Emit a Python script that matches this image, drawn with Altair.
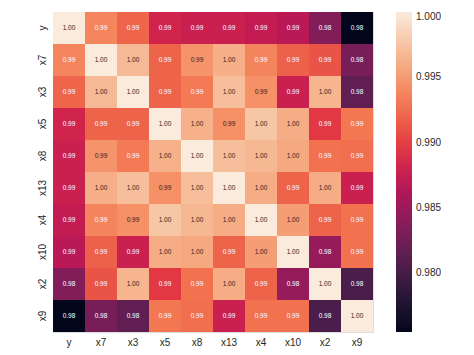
import altair as alt
import pandas as pd

labels = ["y", "x7", "x3", "x5", "x8", "x13", "x4", "x10", "x2", "x9"]

row_y = [1.0, .9938, .9920, .9882, .9878, .9878, .9873, .9868, .9836, .9755]
row_x7 = [.9938, 1.0, .9968, .9919, .9946, .9962, .9937, .9917, .9910, .9829]
row_x3 = [.9920, .9968, 1.0, .9919, .9932, .9971, .9944, .9878, .9965, .9816]
row_x5 = [.9882, .9919, .9919, 1.0, .9963, .9944, .9976, .9960, .9897, .9931]
row_x8 = [.9878, .9946, .9932, .9963, 1.0, .9971, .9967, .9958, .9927, .9925]
row_x13 = [.9878, .9962, .9971, .9944, .9971, 1.0, .9960, .9919, .9960, .9878]
row_x4 = [.9873, .9937, .9944, .9976, .9967, .9960, 1.0, .9951, .9919, .9927]
row_x10 = [.9868, .9917, .9878, .9960, .9958, .9919, .9951, 1.0, .9846, .9927]
row_x2 = [.9836, .9910, .9965, .9897, .9927, .9960, .9919, .9846, 1.0, .9804]
row_x9 = [.9755, .9829, .9816, .9931, .9925, .9878, .9927, .9927, .9804, 1.0]

rows = [row_y, row_x7, row_x3, row_x5, row_x8, row_x13, row_x4, row_x10, row_x2, row_x9]

colorbar_ticks = [0.980, 0.985, 0.990, 0.995, 1.000]
color_domain = [0.9755, 0.9790, 0.9825, 0.9860, 0.9895, 0.9930, 0.9965, 1.0]
rocket = ["#03051a", "#35193e", "#701f57", "#ad1759", "#e13342", "#f37651", "#f6b48f", "#faebdd"]

records = []
for rname, vals in zip(labels, rows):
    for cname, v in zip(labels, vals):
        records.append({"row": rname, "col": cname, "v": v, "txt": f"{v:.2f}"})
df = pd.DataFrame(records)

FONT = "Liberation Sans"

base = alt.Chart(df).encode(
    x=alt.X("col:N", sort=labels, title="",
            scale=alt.Scale(paddingInner=0, paddingOuter=0),
            axis=alt.Axis(orient="bottom", labelAngle=0, ticks=False, domain=False,
                          labelPadding=5, labelFontSize=10, labelColor="#262626",
                          labelFont=FONT)),
    y=alt.Y("row:N", sort=labels, title="",
            scale=alt.Scale(paddingInner=0, paddingOuter=0),
            axis=alt.Axis(orient="left", labelAngle=270, ticks=False, domain=False,
                          labelAlign="center", labelBaseline="bottom",
                          labelPadding=6, labelFontSize=10, labelColor="#262626",
                          labelFont=FONT)),
)

rects = base.mark_rect(strokeWidth=0).encode(
    color=alt.Color("v:Q", title="",
                    scale=alt.Scale(domain=color_domain, range=rocket, type="linear"),
                    legend=alt.Legend(type="gradient", orient="none", legendX=343, legendY=0,
                                      direction="vertical", gradientLength=320,
                                      gradientThickness=16, values=colorbar_ticks,
                                      format=".3f", labelFontSize=10, labelColor="#262626",
                                      labelFont=FONT, labelOffset=4, labelBaseline="middle",
                                      padding=0, gradientStrokeWidth=0)),
)

texts = base.mark_text(fontSize=6.5, font=FONT).encode(
    text="txt:N",
    color=alt.condition(alt.datum.v > 0.9941, alt.value("#262626"), alt.value("white")),
)

chart = alt.layer(rects, texts).properties(
    width=320, height=320,
    autosize=alt.AutoSizeParams(type="none"),
    padding={"left": 53, "top": 12, "right": 101, "bottom": 23},
).configure_view(strokeWidth=0).configure(background="white")

chart.save("out.html", embed_options={"renderer": "svg", "actions": False})
